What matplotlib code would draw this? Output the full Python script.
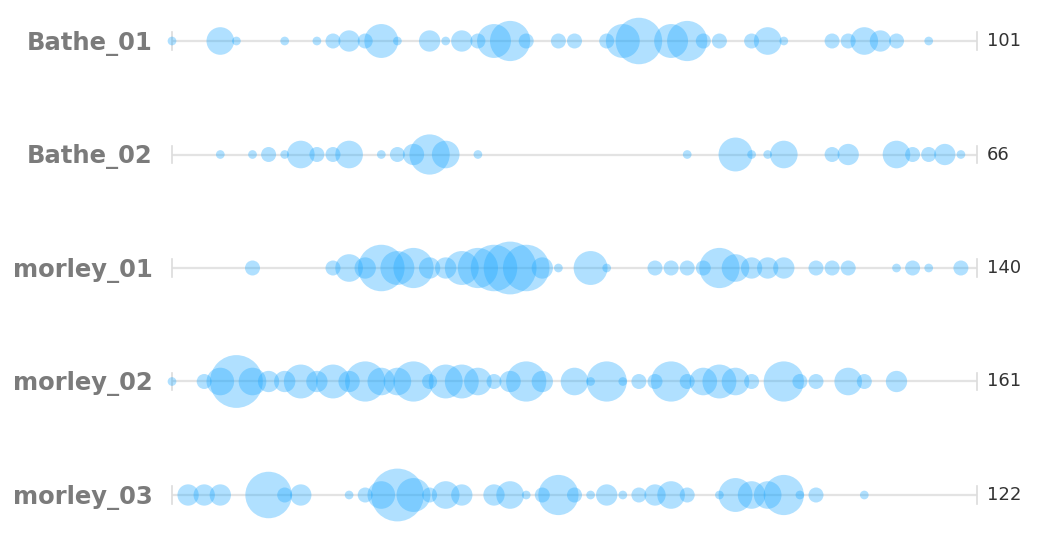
import matplotlib
matplotlib.use('Agg')
import matplotlib.pyplot as plt

# rows top to bottom
names = ['Bathe_01', 'Bathe_02', 'morley_01', 'morley_02', 'morley_03']
totals = [101, 66, 140, 161, 122]

# bubble positions along the 0..50 axis and their sizes
bathe_01_pos = [0, 3, 4, 7, 9, 10, 11, 12, 13, 14, 16, 17, 18, 19, 20, 21, 22, 24, 25,
                27, 28, 29, 31, 32, 33, 34, 36, 37, 38, 41, 42, 43, 44, 45, 47]
bathe_01_val = [1, 4, 1, 1, 1, 2, 3, 2, 5, 1, 3, 1, 3, 2, 5, 6, 2, 2, 2,
                2, 5, 7, 5, 6, 2, 2, 2, 4, 1, 2, 2, 4, 3, 2, 1]

bathe_02_pos = [3, 5, 6, 7, 8, 9, 10, 11, 13, 14, 15, 16, 17, 19,
                32, 35, 36, 37, 38, 41, 42, 45, 46, 47, 48, 49]
bathe_02_val = [1, 1, 2, 1, 4, 2, 2, 4, 1, 2, 3, 6, 4, 1,
                1, 5, 1, 1, 4, 2, 3, 4, 2, 2, 3, 1]

morley_01_pos = [5, 10, 11, 12, 13, 14, 15, 16, 17, 18, 19, 20, 21, 22, 23, 24,
                 26, 27, 30, 31, 32, 33, 34, 35, 36, 37, 38, 40, 41, 42, 45, 46, 47, 49]
morley_01_val = [2, 2, 4, 3, 7, 5, 6, 3, 3, 5, 6, 7, 8, 7, 3, 1,
                 5, 1, 2, 2, 2, 2, 6, 4, 3, 3, 3, 2, 2, 2, 1, 2, 1, 2]

morley_02_pos = [0, 2, 3, 4, 5, 6, 7, 8, 9, 10, 11, 12, 13, 14, 15, 16, 17, 18, 19, 20,
                 21, 22, 23, 25, 26, 27, 28, 29, 30, 31, 32, 33, 34, 35, 36, 38, 39, 40,
                 42, 43, 45]
morley_02_val = [1, 2, 4, 8, 4, 3, 3, 5, 3, 5, 3, 6, 4, 4, 6, 2, 5, 5, 4, 2,
                 3, 6, 3, 4, 1, 6, 1, 2, 2, 6, 2, 4, 5, 4, 2, 6, 2, 2,
                 4, 2, 3]

morley_03_pos = [1, 2, 3, 6, 7, 8, 11, 12, 13, 14, 15, 16, 17, 18, 20, 21, 22, 23, 24, 25,
                 26, 27, 28, 29, 30, 31, 32, 34, 35, 36, 37, 38, 39, 40, 43]
morley_03_val = [3, 3, 3, 7, 2, 3, 1, 2, 4, 8, 5, 2, 4, 3, 3, 4, 1, 2, 6, 2,
                 1, 3, 1, 2, 3, 4, 2, 1, 5, 4, 4, 6, 1, 2, 1]

rows = [
    (bathe_01_pos, bathe_01_val),
    (bathe_02_pos, bathe_02_val),
    (morley_01_pos, morley_01_val),
    (morley_02_pos, morley_02_val),
    (morley_03_pos, morley_03_val),
]

fig = plt.figure(figsize=(10.6, 5.46), dpi=100)
ax = fig.add_axes([0, 0, 1, 1])
ax.set_xlim(-172 * 50 / 805, (1060 - 172) * 50 / 805)
ax.set_ylim((546 - 41) / 113.5, -41 / 113.5)
ax.axis('off')

bubble = '#1ea8ff'
for i, (pos, val) in enumerate(rows):
    ax.plot([0, 50], [i, i], color='#e3e3e3', lw=1.6, zorder=1, solid_capstyle='butt')
    for x_end in (0, 50):
        ax.plot([x_end, x_end], [i - 0.075, i + 0.075], color='#dcdcdc', lw=1.2, zorder=1)
    # radius in px grows linearly with the value, converted to points^2
    sizes = [(2 * (1.2 + 3.15 * v) * 0.72) ** 2 for v in val]
    ax.scatter(pos, [i] * len(pos), s=sizes, color=bubble, alpha=0.35,
               linewidths=0, zorder=2)
    ax.text(-1.2, i + 0.02, names[i], ha='right', va='center', fontsize=17.5,
            fontweight='bold', color='#7b7b7b')
    ax.text(50.6, i, str(totals[i]), ha='left', va='center', fontsize=13,
            color='#333333')

fig.savefig('out.png', dpi=100)
